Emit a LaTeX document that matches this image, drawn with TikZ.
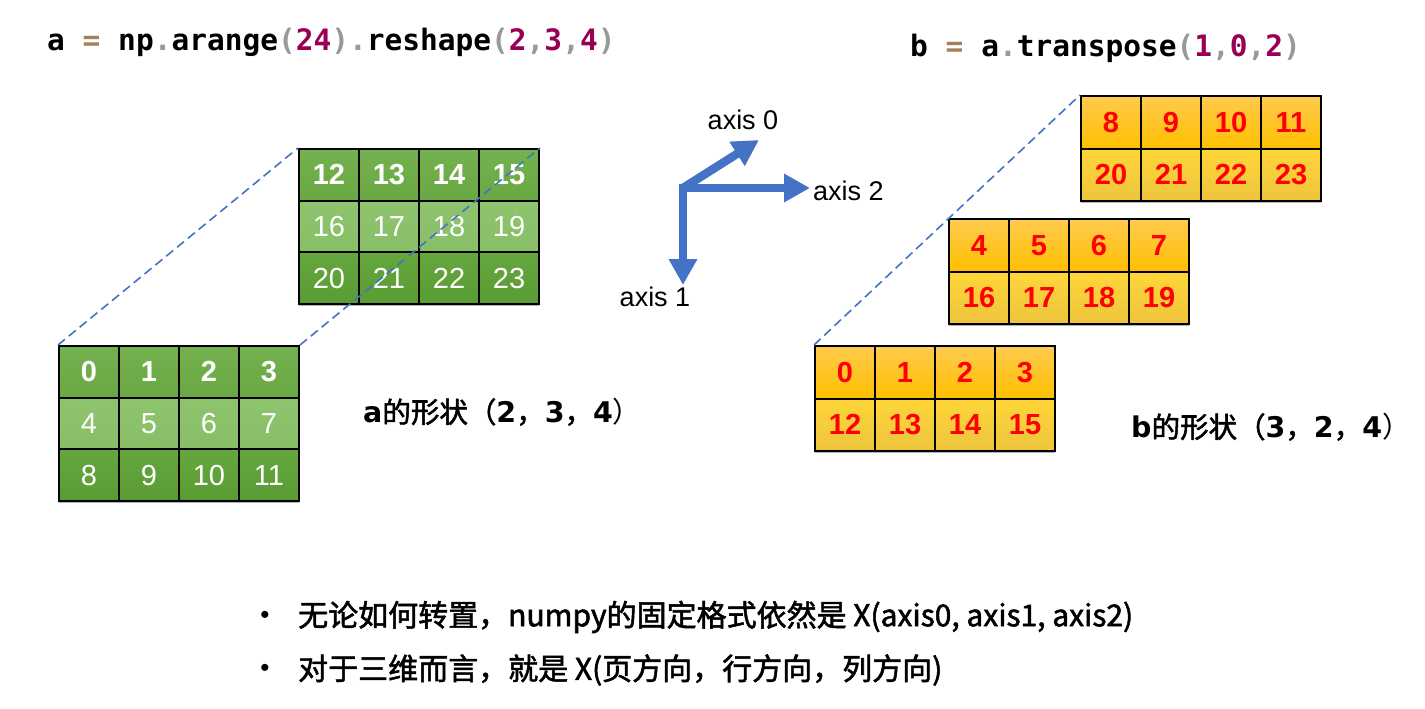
\documentclass[tikz,border=0pt]{standalone}
\usepackage{fontspec}
\setmainfont{Liberation Sans}
\newfontfamily\codefont{DejaVu Sans Mono}
\newfontfamily\labfont{DejaVu Sans}
\newfontfamily\cjk{Noto Sans CJK SC}
\newfontfamily\cjkmid{Noto Sans CJK SC}[FakeBold=1.8]
\usetikzlibrary{arrows.meta, positioning, shadows}

\definecolor{axisblue}{HTML}{4472C4}
\definecolor{codeeq}{HTML}{A67F59}
\definecolor{codepunct}{HTML}{999999}
\definecolor{codenum}{HTML}{990055}
% green rows of a, orange rows of b
\definecolor{gtop0}{HTML}{74B14F}
\definecolor{gbot0}{HTML}{69A843}
\definecolor{gtop1}{HTML}{8EC46D}
\definecolor{gbot1}{HTML}{88BE66}
\definecolor{gtop2}{HTML}{64A73D}
\definecolor{gbot2}{HTML}{5A9C34}
\definecolor{otop0}{HTML}{FFCA4F}
\definecolor{obot0}{HTML}{FFC000}
\definecolor{otop1}{HTML}{FFD638}
\definecolor{obot1}{HTML}{EEC43E}

\newcommand\eqs{\textcolor{codeeq}{=}}
\newcommand\pu[1]{\textcolor{codepunct}{#1}}
\newcommand\nm[1]{\textcolor{codenum}{#1}}
\newcommand\lt[1]{{\labfont\bfseries #1}}
\newcommand\ct[1]{{\cjkmid #1}}

\begin{document}
\begin{tikzpicture}[x=1pt, y=-1pt,
  code/.style={font=\codefont\bfseries\fontsize{29.5}{34}\selectfont, inner sep=0pt},
  cell/.style={draw=black, line width=2pt, inner sep=0pt, minimum width=60pt},
  gcell/.style={cell, minimum height=51.7pt, text=white, font=\fontsize{29}{34}\selectfont},
  ocell/.style={cell, minimum height=52.5pt, text=red, font=\bfseries\fontsize{29}{34}\selectfont},
  pageshadow/.style={drop shadow={shadow xshift=1pt, shadow yshift=-3pt, opacity=.3, fill=black}},
  dashline/.style={axisblue, line width=1.6pt, dash pattern=on 9pt off 5pt},
  axisarrow/.style={axisblue, line width=8.5pt, -{Triangle[length=26pt, width=27pt]}},
  axislabel/.style={font=\fontsize{27}{30}\selectfont, inner sep=0pt},
  shapelabel/.style={font=\fontsize{28.5}{32}\selectfont, inner sep=0pt, anchor=west},
  bullet/.style={font=\cjkmid\fontsize{30}{34}\selectfont, inner sep=0pt, anchor=west}]
  \useasboundingbox (0,0) rectangle (1425,709);

  % code lines
  \node[code, anchor=west] (acode) at (47,42)
    {a \eqs{} np\pu{.}arange\pu{(}\nm{24}\pu{)}\pu{.}reshape\pu{(}\nm{2}\pu{,}\nm{3}\pu{,}\nm{4}\pu{)}};
  \node[code, anchor=west] (bcode) at (910,48)
    {b \eqs{} a\pu{.}transpose\pu{(}\nm{1}\pu{,}\nm{0}\pu{,}\nm{2}\pu{)}};

  % array a: two pages of 3x4
  \foreach \pg/\px/\py in {1/298/148, 0/58/345} {
    \path[pageshadow] (\px,\py) rectangle ++(240,155);
    \foreach \r in {0,1,2}
      \foreach \c in {0,...,3} {
        \pgfmathtruncatemacro\v{12*\pg+4*\r+\c}
        \node[gcell, top color=gtop\r, bottom color=gbot\r, anchor=north west]
          (a\pg-\r-\c) at ({\px+60*\c},{\py+51.7*\r}) {\ifnum\r=0 \bfseries\fi\v};
      }
  }
  \draw[dashline] (a0-0-0.north west) -- (a1-0-0.north west);
  \draw[dashline] (a0-0-3.north east) -- (a1-0-3.north east);

  % array b: three pages of 2x4
  \foreach \pg/\px/\py in {2/1080/95, 1/948/218, 0/814/345} {
    \path[pageshadow] (\px,\py) rectangle ++(240,105);
    \foreach \r in {0,1}
      \foreach \c in {0,...,3} {
        \pgfmathtruncatemacro\v{12*\r+4*\pg+\c}
        \node[ocell, top color=otop\r, bottom color=obot\r, anchor=north west]
          (b\pg-\r-\c) at ({\px+60*\c},{\py+52.5*\r}) {\v};
      }
  }
  \draw[dashline] (b0-0-0.north west) -- (b2-0-0.north west);

  % axes
  \coordinate (org) at (683,188);
  \coordinate (ax0end) at (759,140);
  \coordinate (ax1end) at (683,285);
  \coordinate (ax2end) at (810,188);
  \node[axislabel] (ax0) at (743,120) {axis 0};
  \node[axislabel, anchor=west] (ax2) at (813,191) {axis 2};
  \node[axislabel] (ax1) at (655,297) {axis 1};
  \draw[axisarrow] (org) -- (ax0end);
  \draw[axisarrow] ([xshift=-4.25pt]org) -- (ax2end);
  \draw[axisarrow] ([yshift=4.25pt]org) -- (ax1end);

  % shapes
  \node[shapelabel] (ashape) at (363,412)
    {\lt{a}\ct{的形状（}\lt{2}\ct{，}\lt{3}\ct{，}\lt{4}{\cjk ）}};
  \node[shapelabel] (bshape) at (1131,427)
    {\lt{b}\ct{的形状（}\lt{3}\ct{，}\lt{2}\ct{，}\lt{4}{\cjk ）}};

  % notes
  \node[font=\fontsize{26}{26}\selectfont] (dot1) at (265,617) {\textbullet};
  \node[bullet] (note1) at (298,617) {无论如何转置，numpy的固定格式依然是 X(axis0, axis1, axis2)};
  \node[font=\fontsize{26}{26}\selectfont] (dot2) at (265,670) {\textbullet};
  \node[bullet] (note2) at (298,670) {对于三维而言，就是 X(页方向，行方向，列方向)};
\end{tikzpicture}
\end{document}
